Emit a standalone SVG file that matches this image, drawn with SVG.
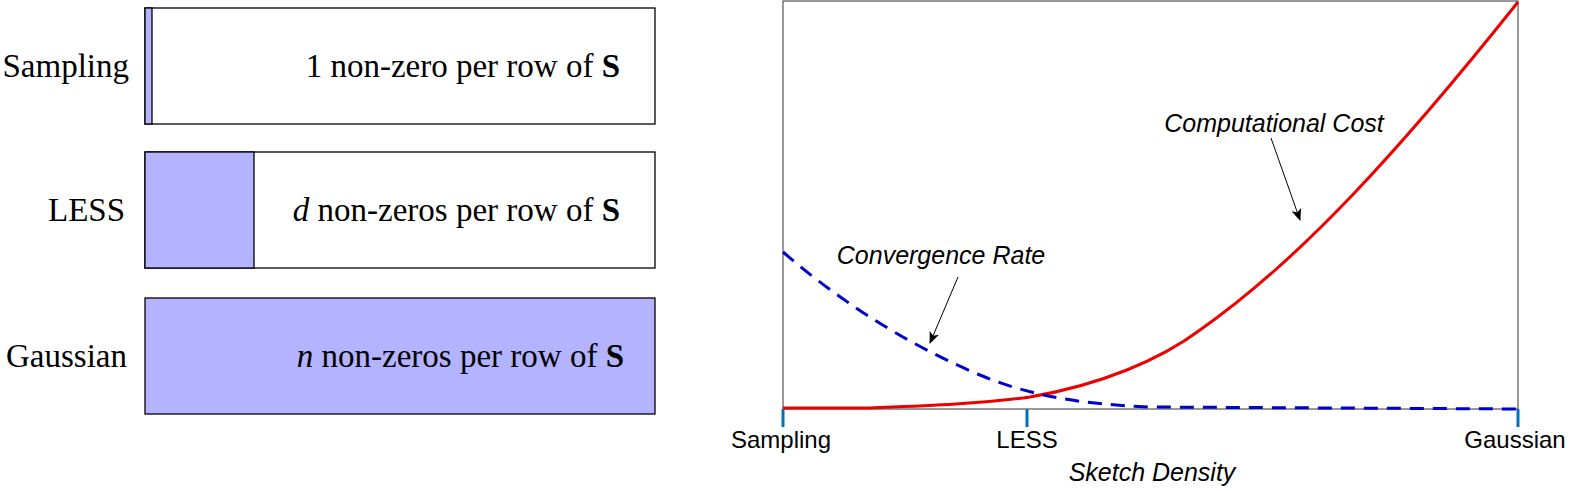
<svg xmlns="http://www.w3.org/2000/svg" width="1588" height="491" viewBox="0 0 1588 491">
<style>
.box{fill:#fff;stroke:#000;stroke-width:1.3}
.fill{fill:#b3b3ff;stroke:#000;stroke-width:1.3}
.lbl{font-family:"Liberation Serif",serif;font-size:33px}
.ax{font-family:"Liberation Sans",sans-serif;font-size:24px}
.it{font-family:"Liberation Sans",sans-serif;font-size:25px;font-style:italic}
.tick{stroke:#0072bd;stroke-width:3}
</style>
<defs><marker id="ah" markerWidth="12" markerHeight="10" refX="11" refY="5" orient="auto" markerUnits="userSpaceOnUse"><path d="M0,0 L12,5 L0,10 L3,5 Z" fill="#000"/></marker></defs>
<g id="sampling"><rect class="box" x="145" y="8" width="510" height="116"/><rect class="fill" x="145" y="8" width="7" height="116"/>
<text class="lbl" x="129" y="77" text-anchor="end">Sampling</text>
<text class="lbl" x="620" y="77" text-anchor="end">1 non-zero per row of <tspan font-weight="bold">S</tspan></text></g>
<g id="less"><rect class="box" x="145" y="152" width="510" height="116"/><rect class="fill" x="145" y="152" width="109" height="116"/>
<text class="lbl" x="125" y="221" text-anchor="end">LESS</text>
<text class="lbl" x="620" y="221" text-anchor="end"><tspan font-style="italic">d</tspan> non-zeros per row of <tspan font-weight="bold">S</tspan></text></g>
<g id="gaussian"><rect class="fill" x="145" y="298" width="510" height="116"/>
<text class="lbl" x="127" y="367" text-anchor="end">Gaussian</text>
<text class="lbl" x="624" y="367" text-anchor="end"><tspan font-style="italic">n</tspan> non-zeros per row of <tspan font-weight="bold">S</tspan></text></g>
<g id="plot">
<rect x="783" y="1" width="735" height="408" fill="#fff" stroke="#333" stroke-width="1"/>
<line class="tick" x1="783" y1="409" x2="783" y2="427"/><line class="tick" x1="1027" y1="409" x2="1027" y2="427"/><line class="tick" x1="1518" y1="409" x2="1518" y2="427"/>
<text class="ax" x="781" y="448" text-anchor="middle">Sampling</text>
<text class="ax" x="1027" y="448" text-anchor="middle">LESS</text>
<text class="ax" x="1515" y="448" text-anchor="middle">Gaussian</text>
<text class="it" x="1152" y="481" text-anchor="middle">Sketch Density</text>
<path d="M783,408 L870,408 C920,406 980,404 1030,397 C1100,385 1160,360 1200,330 C1300,260 1400,150 1518,2" fill="none" stroke="#e00" stroke-width="3"/>
<path d="M783,252 C850,310 920,350 980,375 C1030,396 1080,404 1150,407 L1518,409" fill="none" stroke="#00c" stroke-width="3" stroke-dasharray="14,9"/>
</g>
<g id="connectors">
<line x1="958" y1="277" x2="930" y2="343" stroke="#000" stroke-width="1" marker-end="url(#ah)"/>
<line x1="1271" y1="138" x2="1300" y2="220" stroke="#000" stroke-width="1" marker-end="url(#ah)"/>
</g>
<g id="labels">
<text class="it" x="941" y="264" text-anchor="middle">Convergence Rate</text>
<text class="it" x="1274" y="132" text-anchor="middle">Computational Cost</text>
</g>
</svg>
